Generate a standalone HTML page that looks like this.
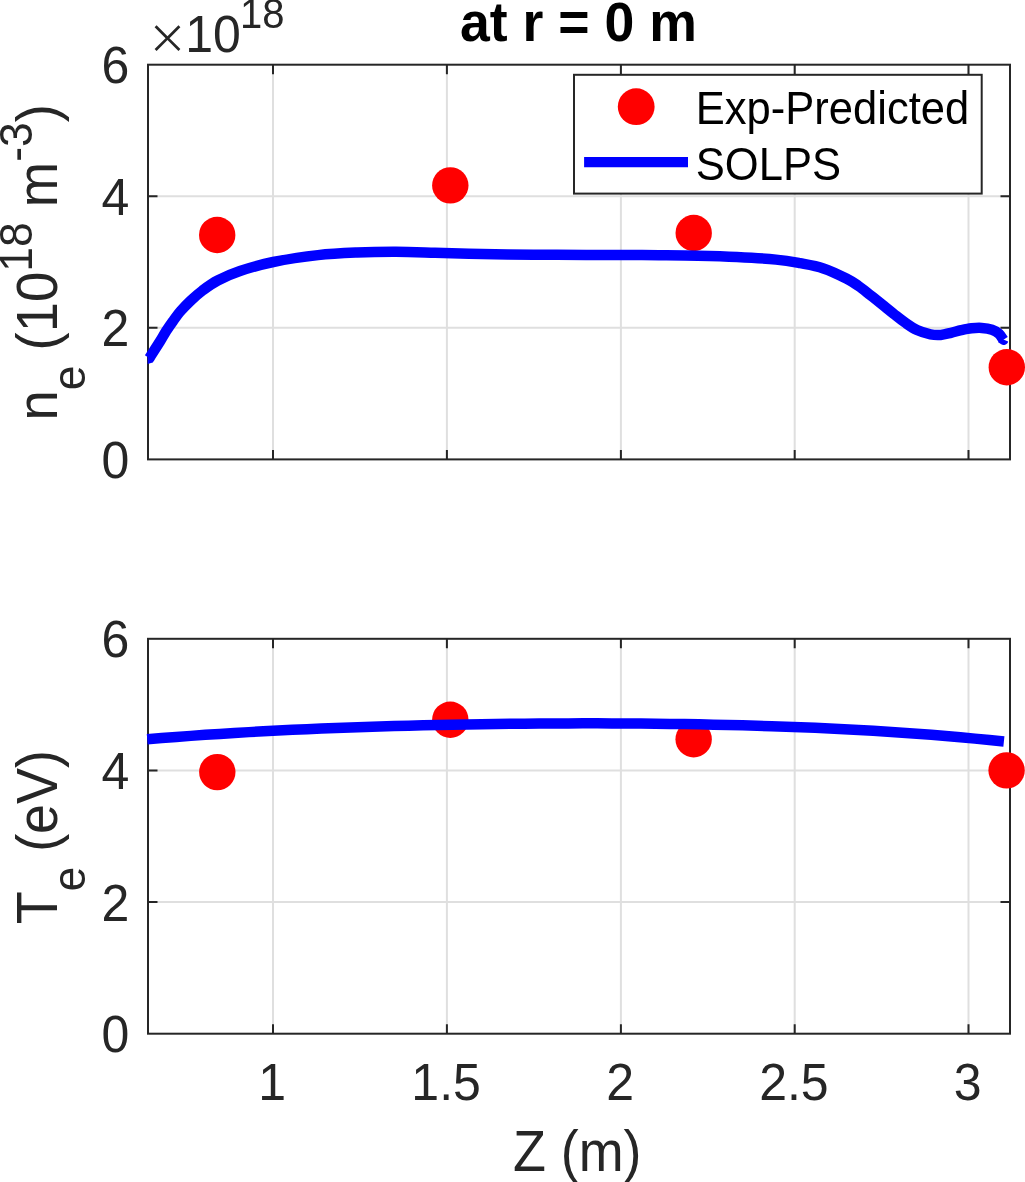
<!DOCTYPE html><html><head><meta charset="utf-8"><style>html,body{margin:0;padding:0;background:#fff;overflow:hidden}svg{display:block}text{font-family:"Liberation Sans",Arial,Helvetica,sans-serif}</style></head><body>
<svg width="1025" height="1182" viewBox="0 0 1025 1182">
<rect width="1025" height="1182" fill="#fff"/>
<path d="M273.00,64.70V459.40M446.90,64.70V459.40M620.90,64.70V459.40M794.70,64.70V459.40M968.50,64.70V459.40M148.00,327.83H1010.00M148.00,196.27H1010.00" stroke="#dfdfdf" stroke-width="2" fill="none"/>
<path d="M273.00,459.40V449.90M273.00,64.70V74.20M446.90,459.40V449.90M446.90,64.70V74.20M620.90,459.40V449.90M620.90,64.70V74.20M794.70,459.40V449.90M794.70,64.70V74.20M968.50,459.40V449.90M968.50,64.70V74.20M148.00,327.83H157.50M1010.00,327.83H1000.50M148.00,196.27H157.50M1010.00,196.27H1000.50" stroke="#262626" stroke-width="2.00" fill="none"/>
<rect x="148.00" y="64.70" width="862.00" height="394.70" stroke="#262626" stroke-width="2.00" fill="none"/>
<circle cx="217.20" cy="234.95" r="18.20" fill="#f00"/>
<circle cx="450.30" cy="185.40" r="18.20" fill="#f00"/>
<circle cx="693.70" cy="233.00" r="18.20" fill="#f00"/>
<circle cx="1006.80" cy="367.20" r="18.20" fill="#f00"/>
<g><path d="M147.6,356.6 L151.2,356.6 L154.2,358.6 L154.1,360.6 L152.8,362.4 L151,363.1 L147.6,363.9Z" fill="#0000ff"/><path d="M149.30,358.10 C151.08,355.32 157.20,345.88 160.00,341.40 C162.80,336.92 163.93,334.58 166.10,331.20 C168.27,327.82 170.55,324.48 173.00,321.10 C175.45,317.72 177.88,314.28 180.80,310.90 C183.72,307.52 186.90,304.18 190.50,300.80 C194.10,297.42 197.87,293.98 202.40,290.60 C206.93,287.22 211.43,283.77 217.70,280.50 C223.97,277.23 230.75,274.08 240.00,271.00 C249.25,267.92 260.20,264.65 273.20,262.00 C286.20,259.35 304.03,256.68 318.00,255.10 C331.97,253.52 344.00,253.05 357.00,252.50 C370.00,251.95 383.00,251.77 396.00,251.80 C409.00,251.83 422.83,252.38 435.00,252.70 C447.17,253.02 456.83,253.40 469.00,253.70 C481.17,254.00 495.00,254.33 508.00,254.50 C521.00,254.67 534.00,254.63 547.00,254.70 C560.00,254.77 573.00,254.85 586.00,254.90 C599.00,254.95 612.83,254.95 625.00,255.00 C637.17,255.05 646.83,255.08 659.00,255.20 C671.17,255.32 685.00,255.40 698.00,255.70 C711.00,256.00 724.00,256.35 737.00,257.00 C750.00,257.65 765.50,258.57 776.00,259.60 C786.50,260.63 792.10,261.73 800.00,263.20 C807.90,264.67 815.60,265.82 823.40,268.40 C831.20,270.98 840.95,275.77 846.80,278.70 C852.65,281.63 854.58,283.27 858.50,286.00 C862.42,288.73 866.38,292.03 870.30,295.10 C874.22,298.17 878.10,301.28 882.00,304.40 C885.90,307.52 889.80,310.73 893.70,313.80 C897.60,316.87 901.52,320.10 905.40,322.80 C909.28,325.50 912.82,328.08 917.00,330.00 C921.18,331.92 926.55,333.48 930.50,334.30 C934.45,335.12 937.28,335.15 940.70,334.90 C944.12,334.65 947.58,333.58 951.00,332.80 C954.42,332.02 957.78,330.95 961.20,330.20 C964.62,329.45 968.08,328.68 971.50,328.30 C974.92,327.92 978.28,327.67 981.70,327.90 C985.12,328.13 989.10,328.72 992.00,329.70 C994.90,330.68 997.22,332.10 999.10,333.80 C1000.98,335.50 1002.60,338.88 1003.30,339.90" stroke="#0000ff" stroke-width="10.5" fill="none" stroke-linejoin="round" stroke-linecap="butt"/>
<path d="M1003.4,339.4 L1008.1,341.4 L1007.6,342.9 L1006.2,344.2 L1004.6,344.9 L1003.1,344.9 L1001.2,344.3 L999.4,343.1 L998.4,342.2 L1001,339.5Z" fill="#0000ff"/></g>
<path d="M273.00,638.80V1033.70M446.90,638.80V1033.70M620.90,638.80V1033.70M794.70,638.80V1033.70M968.50,638.80V1033.70M148.00,902.07H1010.00M148.00,770.43H1010.00" stroke="#dfdfdf" stroke-width="2" fill="none"/>
<path d="M273.00,1033.70V1024.20M273.00,638.80V648.30M446.90,1033.70V1024.20M446.90,638.80V648.30M620.90,1033.70V1024.20M620.90,638.80V648.30M794.70,1033.70V1024.20M794.70,638.80V648.30M968.50,1033.70V1024.20M968.50,638.80V648.30M148.00,902.07H157.50M1010.00,902.07H1000.50M148.00,770.43H157.50M1010.00,770.43H1000.50" stroke="#262626" stroke-width="2.00" fill="none"/>
<rect x="148.00" y="638.80" width="862.00" height="394.90" stroke="#262626" stroke-width="2.00" fill="none"/>
<circle cx="217.30" cy="772.10" r="18.20" fill="#f00"/>
<circle cx="450.30" cy="719.70" r="18.20" fill="#f00"/>
<circle cx="693.65" cy="739.20" r="18.20" fill="#f00"/>
<circle cx="1006.60" cy="770.40" r="18.20" fill="#f00"/>
<path d="M147.20,739.31 L161.72,738.10 L176.24,736.95 L190.76,735.87 L205.28,734.85 L219.80,733.89 L234.32,732.98 L248.84,732.13 L263.36,731.32 L277.88,730.57 L292.40,729.86 L306.92,729.19 L321.44,728.57 L335.96,727.99 L350.48,727.45 L365.01,726.95 L379.53,726.48 L394.05,726.05 L408.57,725.65 L423.09,725.29 L437.61,724.96 L452.13,724.67 L466.65,724.40 L481.17,724.16 L495.69,723.96 L510.21,723.78 L524.73,723.64 L539.25,723.53 L553.77,723.44 L568.29,723.39 L582.81,723.36 L597.33,723.37 L611.85,723.41 L626.37,723.48 L640.89,723.59 L655.41,723.73 L669.93,723.90 L684.45,724.11 L698.97,724.36 L713.49,724.64 L728.01,724.97 L742.53,725.33 L757.05,725.74 L771.57,726.20 L786.09,726.70 L800.62,727.25 L815.14,727.86 L829.66,728.51 L844.18,729.22 L858.70,730.00 L873.22,730.83 L887.74,731.72 L902.26,732.69 L916.78,733.72 L931.30,734.82 L945.82,736.01 L960.34,737.27 L974.86,738.61 L989.38,740.04 L1003.90,741.56" stroke="#0000ff" stroke-width="10.5" fill="none" stroke-linejoin="round" stroke-linecap="butt"/>
<rect x="574" y="74.8" width="407.7" height="118.8" fill="#fff" stroke="#262626" stroke-width="2"/>
<circle cx="636.2" cy="106.7" r="18.4" fill="#f00"/>
<path d="M584.1,162.2H688" stroke="#0000ff" stroke-width="10.2"/>
<text transform="translate(129.30,477.90) scale(1.0000,1.0420)" font-size="50.00" text-anchor="end" font-weight="normal" fill="#262626">0</text>
<text transform="translate(129.30,346.33) scale(1.0000,1.0420)" font-size="50.00" text-anchor="end" font-weight="normal" fill="#262626">2</text>
<text transform="translate(129.30,214.77) scale(1.0000,1.0420)" font-size="50.00" text-anchor="end" font-weight="normal" fill="#262626">4</text>
<text transform="translate(129.30,83.20) scale(1.0000,1.0420)" font-size="50.00" text-anchor="end" font-weight="normal" fill="#262626">6</text>
<text transform="translate(129.30,1052.20) scale(1.0000,1.0420)" font-size="50.00" text-anchor="end" font-weight="normal" fill="#262626">0</text>
<text transform="translate(129.30,920.57) scale(1.0000,1.0420)" font-size="50.00" text-anchor="end" font-weight="normal" fill="#262626">2</text>
<text transform="translate(129.30,788.93) scale(1.0000,1.0420)" font-size="50.00" text-anchor="end" font-weight="normal" fill="#262626">4</text>
<text transform="translate(129.30,657.30) scale(1.0000,1.0420)" font-size="50.00" text-anchor="end" font-weight="normal" fill="#262626">6</text>
<text transform="translate(272.20,1099.80) scale(1.0000,1.0420)" font-size="50.00" text-anchor="middle" font-weight="normal" fill="#262626">1</text>
<text transform="translate(446.10,1099.80) scale(1.0000,1.0420)" font-size="50.00" text-anchor="middle" font-weight="normal" fill="#262626">1.5</text>
<text transform="translate(620.10,1099.80) scale(1.0000,1.0420)" font-size="50.00" text-anchor="middle" font-weight="normal" fill="#262626">2</text>
<text transform="translate(793.90,1099.80) scale(1.0000,1.0420)" font-size="50.00" text-anchor="middle" font-weight="normal" fill="#262626">2.5</text>
<text transform="translate(967.70,1099.80) scale(1.0000,1.0420)" font-size="50.00" text-anchor="middle" font-weight="normal" fill="#262626">3</text>
<text transform="translate(577.20,1170.90) scale(0.9800,1.0370)" font-size="55.00" text-anchor="middle" font-weight="normal" fill="#262626">Z (m)</text>
<text transform="translate(578.40,41.30) scale(0.9930,1.0420)" font-size="54.00" text-anchor="middle" font-weight="bold" fill="#000">at r = 0 m</text>
<text transform="translate(147.50,53.20)" font-size="40" fill="#262626" style="font-family:'Noto Sans CJK JP','Liberation Sans',sans-serif">&#215;</text>
<text transform="translate(185.20,51.50) scale(1.0000,1.0420)" font-size="50.00" text-anchor="start" font-weight="normal" fill="#262626">10</text>
<text transform="translate(240.00,27.50) scale(1.0000,1.0420)" font-size="40.00" text-anchor="start" font-weight="normal" fill="#262626">18</text>
<text transform="translate(695.80,124.00) scale(0.9900,1.0500)" font-size="44.00" text-anchor="start" font-weight="normal" fill="#000">Exp-Predicted</text>
<text transform="translate(695.80,179.70) scale(0.9900,1.0550)" font-size="44.00" text-anchor="start" font-weight="normal" fill="#000">SOLPS</text>
<text transform="translate(56.8,420.50) rotate(-90) scale(0.989,1.042)" font-size="55" fill="#262626">n<tspan font-size="45" dy="27">e</tspan><tspan dy="-27"> (10</tspan><tspan font-size="45" dy="-24">18</tspan><tspan dy="24"> m</tspan><tspan font-size="45" dy="-24">-3</tspan><tspan dy="24">)</tspan></text>
<text transform="translate(57.1,924.30) rotate(-90) scale(0.980,1.042)" font-size="55" fill="#262626">T<tspan font-size="45" dy="27">e</tspan><tspan dy="-27"> (eV)</tspan></text>
</svg></body></html>
